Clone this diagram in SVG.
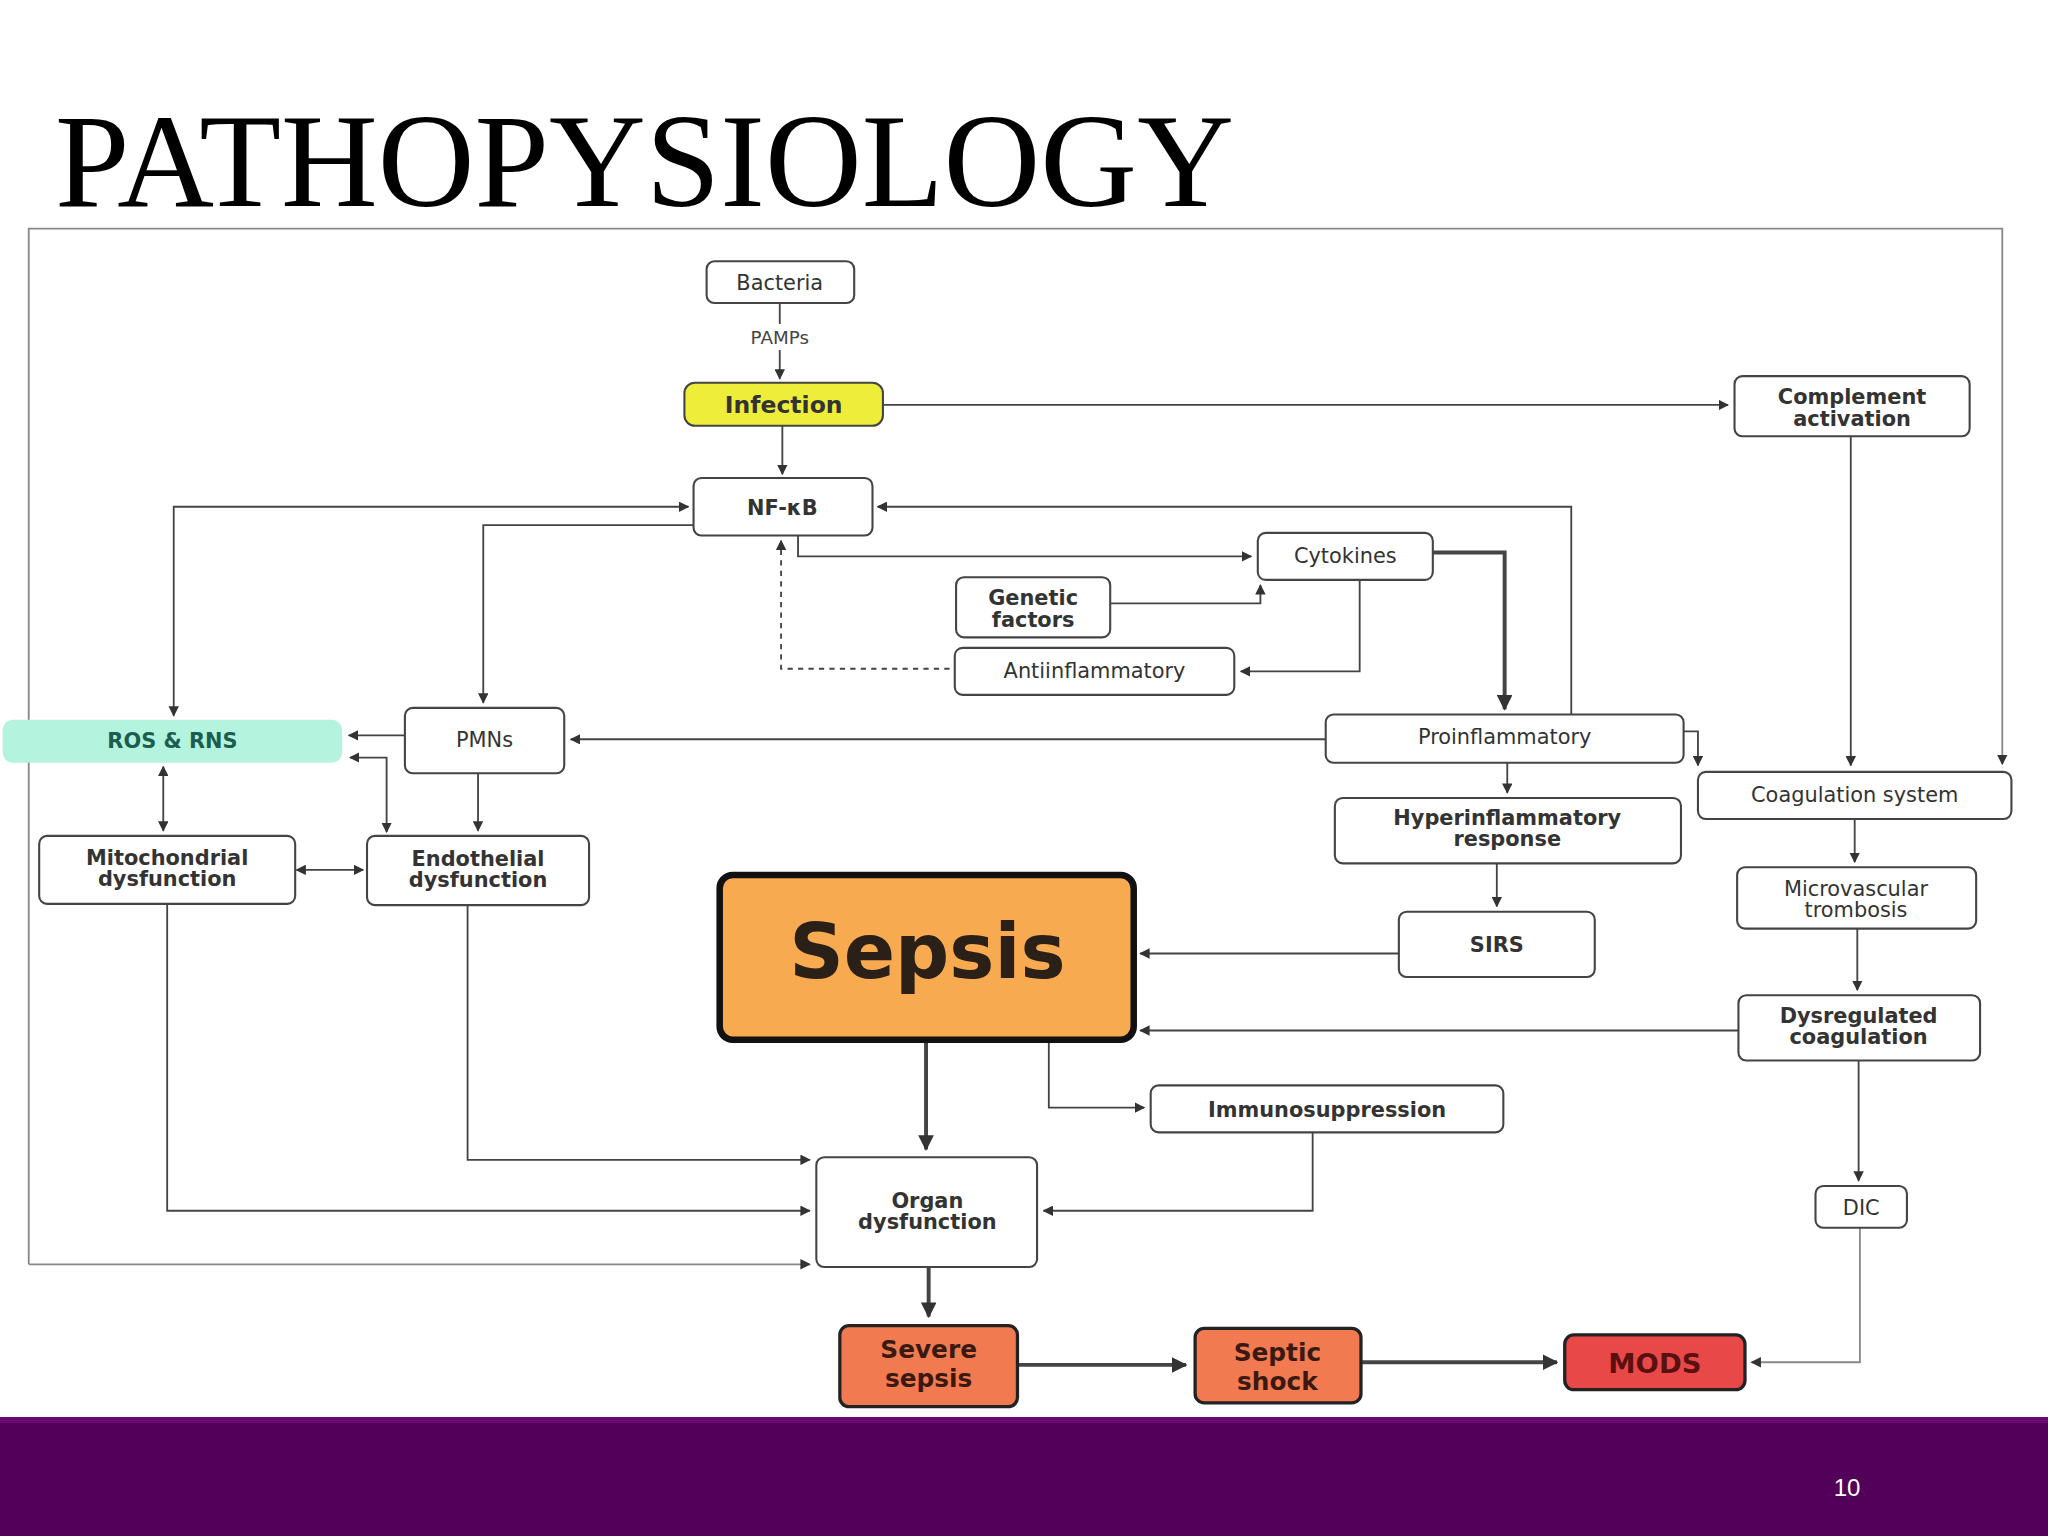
<svg xmlns="http://www.w3.org/2000/svg" width="2048" height="1536" viewBox="0 0 2048 1536">
<defs>
<marker id="a" viewBox="0 0 10 10" refX="9" refY="5" markerWidth="8" markerHeight="8" markerUnits="userSpaceOnUse" orient="auto-start-reverse"><path d="M0,0 L10,5 L0,10 z" fill="#333"/></marker>
<marker id="b" viewBox="0 0 10 10" refX="9" refY="5" markerWidth="12" markerHeight="12" markerUnits="userSpaceOnUse" orient="auto"><path d="M0,0 L10,5 L0,10 z" fill="#333"/></marker>
</defs>
<style>
.n rect{fill:#fff;stroke:#444;stroke-width:1.6}
.n text{font-family:"DejaVu Sans",sans-serif;font-size:16px;fill:#333;text-anchor:middle}
.n text.b{font-weight:bold}
#connectors path{fill:none;stroke:#444;stroke-width:1.4;marker-end:url(#a)}
#connectors path.t{stroke-width:3;marker-end:url(#b)}
</style>
<rect width="2048" height="1536" fill="#fff"/>
<text x="55" y="206" font-family="Liberation Serif,serif" font-size="134" fill="#000">PATHOPYSIOLOGY</text>
<g transform="scale(1.30612)">
<g id="connectors">
<path d="M620,968 H22" style="stroke:#888;marker-end:none;marker-start:url(#a)"/>
<path d="M22,968 V175 H1533 V585" style="stroke:#888"/>
<path d="M597,232 V248" style="marker-end:none"/>
<path d="M597,268 V290"/>
<path d="M599,326 V363"/>
<path d="M676,310 H1323"/>
<path d="M133,548 V388 H527" style="marker-start:url(#a)"/>
<path d="M531,402 H370 V538"/>
<path d="M1203,547 V388 H672"/>
<path d="M611,410 V426 H958"/>
<path d="M850,462 H965 V448"/>
<path d="M1041,444 V514 H950"/>
<path d="M727,512 H598 V414" style="stroke-dasharray:4,4"/>
<path class="t" d="M1097,423 H1152 V543"/>
<path d="M1015,566 H437"/>
<path d="M1289,560 H1300 V586"/>
<path d="M1154,584 V607"/>
<path d="M1146,661 V694"/>
<path d="M1071,730 H873"/>
<path d="M1417,334 V586"/>
<path d="M1420,627 V660"/>
<path d="M1422,711 V758"/>
<path d="M1331,789 H873"/>
<path d="M1423,812 V904"/>
<path d="M1424,940 V1043 H1341" style="stroke:#888"/>
<path d="M310,563 H267"/>
<path d="M268,580 H296 V637" style="marker-start:url(#a)"/>
<path d="M366,592 V636"/>
<path d="M125,587 V636" style="marker-start:url(#a)"/>
<path d="M227,666 H278" style="marker-start:url(#a)"/>
<path class="t" d="M709,796 V880"/>
<path d="M803,796 V848 H876"/>
<path d="M358,693 V888 H620"/>
<path d="M128,692 V927 H620"/>
<path d="M1005,867 V927 H799"/>
<path class="t" d="M711,970 V1008"/>
<path class="t" d="M779,1045 H908"/>
<path class="t" d="M1042,1043 H1192"/>
</g>
<text x="597" y="263" font-family="DejaVu Sans,sans-serif" font-size="14" fill="#444" text-anchor="middle">PAMPs</text>
<g id="bacteria" class="n"><rect x="541" y="200" width="113" height="32" rx="6"/><text x="597" y="222">Bacteria</text></g>
<g id="infection" class="n"><rect x="524" y="293" width="152" height="33" rx="8" style="fill:#eeed3a"/><text class="b" x="600" y="316" style="font-size:18px">Infection</text></g>
<g id="nfkb" class="n"><rect x="531" y="366" width="137" height="44" rx="6"/><text class="b" x="599" y="394">NF-κB</text></g>
<g id="complement" class="n"><rect x="1328" y="288" width="180" height="46" rx="6"/><text class="b" x="1418" y="309">Complement</text><text class="b" x="1418" y="326">activation</text></g>
<g id="cytokines" class="n"><rect x="963" y="408" width="134" height="36" rx="6"/><text x="1030" y="431">Cytokines</text></g>
<g id="genetic" class="n"><rect x="732" y="442" width="118" height="46" rx="6"/><text class="b" x="791" y="463">Genetic</text><text class="b" x="791" y="480">factors</text></g>
<g id="antiinflammatory" class="n"><rect x="731" y="496" width="214" height="36" rx="6"/><text x="838" y="519">Antiinflammatory</text></g>
<g id="ros" class="n"><rect x="2" y="551" width="260" height="33" rx="8" style="fill:#b4f3de;stroke:none"/><text class="b" x="132" y="573" style="fill:#1b5e50">ROS &amp; RNS</text></g>
<g id="pmns" class="n"><rect x="310" y="542" width="122" height="50" rx="6"/><text x="371" y="572">PMNs</text></g>
<g id="proinflammatory" class="n"><rect x="1015" y="547" width="274" height="37" rx="6"/><text x="1152" y="570">Proinflammatory</text></g>
<g id="coagulation" class="n"><rect x="1300" y="591" width="240" height="36" rx="6"/><text x="1420" y="614">Coagulation system</text></g>
<g id="hyper" class="n"><rect x="1022" y="611" width="265" height="50" rx="6"/><text class="b" x="1154" y="632">Hyperinflammatory</text><text class="b" x="1154" y="648">response</text></g>
<g id="mito" class="n"><rect x="30" y="640" width="196" height="52" rx="6"/><text class="b" x="128" y="662">Mitochondrial</text><text class="b" x="128" y="678">dysfunction</text></g>
<g id="endo" class="n"><rect x="281" y="640" width="170" height="53" rx="6"/><text class="b" x="366" y="663">Endothelial</text><text class="b" x="366" y="679">dysfunction</text></g>
<g id="micro" class="n"><rect x="1330" y="664" width="183" height="47" rx="6"/><text x="1421" y="686">Microvascular</text><text x="1421" y="702">trombosis</text></g>
<g id="sepsis" class="n"><rect x="551" y="670" width="317" height="126" rx="10" style="fill:#f8aa50;stroke:#111;stroke-width:5"/><text x="710" y="749" style="font-size:58px;font-weight:bold;fill:#2a2018">Sepsis</text></g>
<g id="sirs" class="n"><rect x="1071" y="698" width="150" height="50" rx="6"/><text class="b" x="1146" y="729">SIRS</text></g>
<g id="dysreg" class="n"><rect x="1331" y="762" width="185" height="50" rx="6"/><text class="b" x="1423" y="783">Dysregulated</text><text class="b" x="1423" y="799">coagulation</text></g>
<g id="immuno" class="n"><rect x="881" y="831" width="270" height="36" rx="6"/><text class="b" x="1016" y="855">Immunosuppression</text></g>
<g id="organ" class="n"><rect x="625" y="886" width="169" height="84" rx="6"/><text class="b" x="710" y="925">Organ</text><text class="b" x="710" y="941">dysfunction</text></g>
<g id="dic" class="n"><rect x="1390" y="908" width="70" height="32" rx="6"/><text x="1425" y="930">DIC</text></g>
<g id="severe" class="n"><rect x="643" y="1015" width="136" height="62" rx="7" style="fill:#f27a50;stroke:#222;stroke-width:2.5"/><text class="b" x="711" y="1040" style="font-size:19px;fill:#3a1a10">Severe</text><text class="b" x="711" y="1062" style="font-size:19px;fill:#3a1a10">sepsis</text></g>
<g id="septic" class="n"><rect x="915" y="1017" width="127" height="57" rx="7" style="fill:#f27a50;stroke:#222;stroke-width:2.5"/><text class="b" x="978" y="1042" style="font-size:19px;fill:#3a1a10">Septic</text><text class="b" x="978" y="1064" style="font-size:19px;fill:#3a1a10">shock</text></g>
<g id="mods" class="n"><rect x="1198" y="1022" width="138" height="42" rx="7" style="fill:#e84848;stroke:#222;stroke-width:2.5"/><text class="b" x="1267" y="1051" style="font-size:21px;fill:#5a1010">MODS</text></g>
</g>
<rect x="0" y="1417" width="2048" height="119" fill="#53005a"/>
<rect x="0" y="1417" width="2048" height="6" fill="#6c0a74"/>
<text x="1847" y="1496" font-family="Liberation Sans,sans-serif" font-size="24" fill="#fff" text-anchor="middle">10</text>
</svg>
